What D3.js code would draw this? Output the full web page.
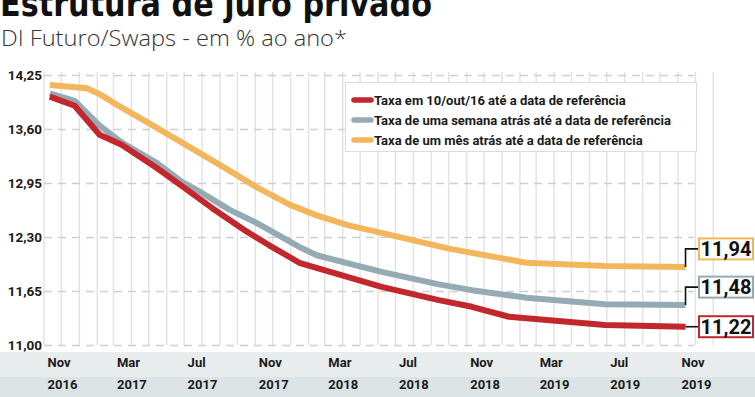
<!DOCTYPE html>
<html lang="pt">
<head>
    <meta charset="UTF-8">
    <title>Estrutura de juro privado</title>
    <style>
        body { margin: 0; background: #fff; }
        svg { display: block; }
        .tick text { font-family: Roboto, "Liberation Sans", sans-serif; font-weight: bold; }
    </style>
</head>
<body>
    <div id="chart"></div>
    <script src="https://cdn.jsdelivr.net/npm/d3@7/dist/d3.min.js"></script>
    <script>
        // Valores (DI futuro / swaps, % ao ano)
        const datasUmMes = ["2016-11-11", "2017-01-14", "2017-02-05", "2017-03-05", "2017-05-01", "2017-07-04",
            "2017-09-05", "2017-11-03", "2017-12-30", "2018-02-15", "2018-04-11", "2018-06-07",
            "2018-10-01", "2019-02-12", "2019-06-28", "2019-11-14"];
        const taxasUmMes = [14.13, 14.09, 14.02, 13.90, 13.67, 13.41, 13.15, 12.90, 12.69, 12.56, 12.44, 12.35,
            12.16, 11.99, 11.95, 11.94];

        const datasUmaSemana = ["2016-11-11", "2016-12-24", "2017-02-05", "2017-03-15", "2017-05-13", "2017-06-28",
            "2017-08-01", "2017-09-17", "2017-11-03", "2018-01-16", "2018-02-15", "2018-06-07",
            "2018-09-14", "2018-11-10", "2019-02-12", "2019-06-28", "2019-11-14"];
        const taxasUmaSemana = [14.03, 13.94, 13.64, 13.44, 13.20, 12.96, 12.83, 12.63, 12.47, 12.18, 12.08, 11.88,
            11.73, 11.66, 11.57, 11.49, 11.48];

        const datasOutubro = ["2016-11-11", "2016-12-24", "2017-02-05", "2017-03-15", "2017-05-13", "2017-06-28",
            "2017-08-18", "2017-10-16", "2017-11-25", "2018-01-16", "2018-06-07", "2018-09-14",
            "2018-11-10", "2019-01-13", "2019-06-28", "2019-11-14"];
        const taxasOutubro = [13.99, 13.88, 13.53, 13.41, 13.14, 12.91, 12.65, 12.37, 12.20, 11.99, 11.70, 11.54,
            11.46, 11.34, 11.24, 11.22];

        const legendas = ["Taxa em 10/out/16 até a data de referência",
            "Taxa de uma semana atrás até a data de referência",
            "Taxa de um mês atrás até a data de referência"];
        const cores = ["#c1272d", "#95abb3", "#f4b65c"];
        const valoresFinais = ["11,22", "11,48", "11,94"];

        const ticksY = [11.00, 11.65, 12.30, 12.95, 13.60, 14.25];
        const mesesPt = ["Jan", "Fev", "Mar", "Abr", "Mai", "Jun", "Jul", "Ago", "Set", "Out", "Nov", "Dez"];

        const width = 755;
        const height = 397;
        const parse = d3.timeParse("%Y-%m-%d");
        const ptBR = d3.formatLocale({ decimal: ",", thousands: ".", grouping: [3], currency: ["R$", ""] });
        const fmt = ptBR.format(".2f");

        const series = [
            { dados: datasOutubro.map((d, i) => ({ data: parse(d), taxa: taxasOutubro[i] })), cor: cores[0] },
            { dados: datasUmaSemana.map((d, i) => ({ data: parse(d), taxa: taxasUmaSemana[i] })), cor: cores[1] },
            { dados: datasUmMes.map((d, i) => ({ data: parse(d), taxa: taxasUmMes[i] })), cor: cores[2] }
        ];

        const svg = d3.select("#chart").append("svg")
            .attr("width", width)
            .attr("height", height);

        const x = d3.scaleTime()
            .domain([parse("2016-11-01"), parse("2019-11-01")])
            .range([44, 678]);
        const y = d3.scaleLinear()
            .domain([11, 14.25])
            .range([345, 75]);

        // titulo e subtitulo (o titulo aparece cortado no topo, como no original)
        svg.append("text")
            .attr("x", 0).attr("y", 16)
            .attr("font-family", "DejaVu Sans, sans-serif")
            .attr("font-weight", "bold")
            .attr("font-size", 35)
            .attr("textLength", 432)
            .attr("lengthAdjust", "spacingAndGlyphs")
            .attr("fill", "#111")
            .text("Estrutura de juro privado");

        svg.append("text")
            .attr("x", 1).attr("y", 46)
            .attr("font-family", "Open Sans, sans-serif")
            .attr("font-weight", 300)
            .attr("font-size", 22)
            .attr("textLength", 346)
            .attr("lengthAdjust", "spacingAndGlyphs")
            .attr("fill", "#333")
            .text("DI Futuro/Swaps - em % ao ano*");

        // grade vertical (mensal)
        svg.append("g")
            .selectAll("line")
            .data(d3.timeMonth.range(parse("2016-11-01"), parse("2020-01-02")))
            .join("line")
            .attr("x1", d => x(d)).attr("x2", d => x(d))
            .attr("y1", 72).attr("y2", 345)
            .attr("stroke", "#e3e3e3")
            .attr("stroke-width", 1.5);

        // grade horizontal tracejada + rotulos do eixo y
        const gy = svg.append("g")
            .attr("transform", "translate(44,0)")
            .call(d3.axisRight(y).tickValues(ticksY).tickSize(650).tickFormat(""));
        gy.select(".domain").remove();
        gy.selectAll(".tick line")
            .attr("stroke", "#cfcfcf")
            .attr("stroke-width", 1.3)
            .attr("stroke-dasharray", "8,6");

        const ay = svg.append("g")
            .attr("transform", "translate(42,0)")
            .call(d3.axisLeft(y).tickValues(ticksY).tickSize(0).tickPadding(0).tickFormat(fmt));
        ay.select(".domain").remove();
        ay.selectAll(".tick text")
            .attr("font-size", 13.5)
            .attr("fill", "#1a1a1a");

        // faixa do eixo x
        svg.append("rect").attr("x", 0).attr("y", 352).attr("width", width).attr("height", 25).attr("fill", "#e8ecec");
        svg.append("rect").attr("x", 0).attr("y", 377).attr("width", width).attr("height", 20).attr("fill", "#dbe3e5");

        const mesesTicks = d3.timeMonth.range(parse("2016-11-01"), parse("2019-11-02"), 4);

        const axMes = svg.append("g")
            .attr("transform", "translate(0,358)")
            .call(d3.axisBottom(x).tickValues(mesesTicks).tickSize(0).tickPadding(0)
                .tickFormat(d => mesesPt[d.getMonth()]));
        const axAno = svg.append("g")
            .attr("transform", "translate(0,380)")
            .call(d3.axisBottom(x).tickValues(mesesTicks).tickSize(0).tickPadding(0)
                .tickFormat(d3.timeFormat("%Y")));
        [axMes, axAno].forEach(g => {
            g.select(".domain").remove();
            g.selectAll(".tick text")
                .attr("text-anchor", "start")
                .attr("dx", 3)
                .attr("font-size", 13)
                .attr("fill", "#1a1a1a");
        });

        // linhas
        const linha = d3.line()
            .x(d => x(d.data))
            .y(d => y(d.taxa));

        svg.append("g")
            .selectAll("path")
            .data(series.slice().reverse())
            .join("path")
            .attr("d", d => linha(d.dados))
            .attr("fill", "none")
            .attr("stroke", d => d.cor)
            .attr("stroke-width", 6)
            .attr("stroke-linejoin", "round");

        // legenda
        const leg = svg.append("g");
        leg.append("rect")
            .attr("x", 345.5).attr("y", 82.5)
            .attr("width", 351).attr("height", 69)
            .attr("fill", "#fff")
            .attr("stroke", "#dcdcdc");
        legendas.forEach((txt, i) => {
            const yy = 100 + i * 20;
            leg.append("line")
                .attr("x1", 354).attr("x2", 371)
                .attr("y1", yy).attr("y2", yy)
                .attr("stroke", cores[i])
                .attr("stroke-width", 5.5)
                .attr("stroke-linecap", "round");
            leg.append("text")
                .attr("x", 374).attr("y", yy)
                .attr("dy", "0.35em")
                .attr("font-family", "Roboto, sans-serif")
                .attr("font-weight", "bold")
                .attr("font-size", 13)
                .attr("fill", "#1a1a1a")
                .text(txt);
        });

        // rotulos finais
        const deslocamento = [0, -18, -18];
        series.forEach((s, i) => {
            const ultimo = s.dados[s.dados.length - 1];
            const x0 = x(ultimo.data);
            const y0 = y(ultimo.taxa);
            const yc = y0 + deslocamento[i];
            svg.append("path")
                .attr("d", d3.line()([[x0, y0], [x0, yc], [699, yc]]))
                .attr("fill", "none")
                .attr("stroke", "#111")
                .attr("stroke-width", 1.6);
            svg.append("rect")
                .attr("x", 699).attr("y", yc - 10.5)
                .attr("width", 54).attr("height", 21)
                .attr("fill", "#fff")
                .attr("stroke", s.cor)
                .attr("stroke-width", 2);
            svg.append("text")
                .attr("x", 726).attr("y", yc)
                .attr("dy", "0.36em")
                .attr("text-anchor", "middle")
                .attr("font-family", "Roboto, sans-serif")
                .attr("font-weight", "bold")
                .attr("font-size", 20)
                .attr("fill", "#111")
                .text(valoresFinais[i]);
        });
    </script>
</body>
</html>
